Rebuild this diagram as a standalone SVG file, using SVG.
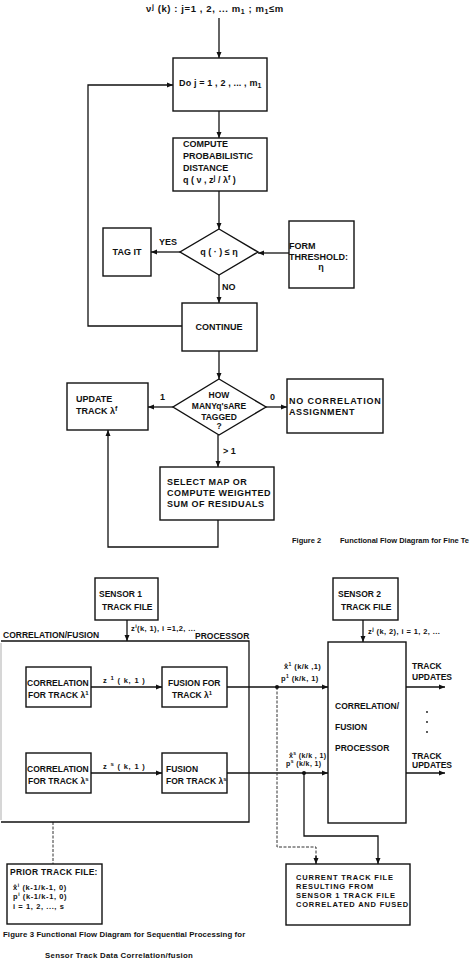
<svg xmlns="http://www.w3.org/2000/svg" width="474" height="962" viewBox="0 0 474 962">
<defs>
<marker id="ah" markerWidth="6" markerHeight="6" refX="6" refY="3" orient="auto" markerUnits="userSpaceOnUse"><path d="M0,0.5 L6,3 L0,5.5 z" fill="#111"/></marker>
<style>
.b{fill:#fff;stroke:#111;stroke-width:1.4}
.l{fill:none;stroke:#111;stroke-width:1.3}
.a{fill:none;stroke:#111;stroke-width:1.3;marker-end:url(#ah)}
.d{fill:none;stroke:#333;stroke-width:1;stroke-dasharray:3,1.5}
.t{font-family:"Liberation Sans",Arial,sans-serif;font-weight:bold;font-size:9px;fill:#111}
.u{font-family:"Liberation Sans",Arial,sans-serif;font-weight:bold;font-size:8.5px;fill:#111}
.s{font-family:"Liberation Sans",Arial,sans-serif;font-weight:bold;font-size:7.5px;fill:#111;letter-spacing:0.4px}
.c{text-anchor:middle}
</style>
</defs>
<rect width="474" height="962" fill="#fff"/>

<text class="t" x="146" y="12" style="font-size:9.5px;letter-spacing:0.6px">ν<tspan dy="-3" font-size="7">j</tspan><tspan dy="3"> (k) : j=1 , 2, ... m</tspan><tspan dy="2" font-size="7">1</tspan><tspan dy="-2"> ; m</tspan><tspan dy="2" font-size="7">1</tspan><tspan dy="-2">≤m</tspan></text>

<g id="connectors">
<path class="a" d="M219,18 V58"/>
<path class="a" d="M219,111 V138"/>
<path class="a" d="M219,191 V229"/>
<path class="a" d="M180,252 H151"/>
<path class="a" d="M289,253 H258"/>
<path class="a" d="M219,275 V303"/>
<path class="a" d="M182,326 H88 V85 H173"/>
<path class="a" d="M219,351 V379"/>
<path class="a" d="M173,407 H148"/>
<path class="a" d="M266,407 H287"/>
<path class="a" d="M218,435 V467"/>
<path class="a" d="M218,520 V547 H108 V430"/>

<path class="a" d="M127,620 V641"/>
<path class="a" d="M363,620 V642"/>
<path class="a" d="M91,687 H162"/>
<path class="a" d="M227,687 H328"/>
<path class="a" d="M406,687 H445"/>
<path class="a" d="M91,773 H162"/>
<path class="a" d="M227,773 H328"/>
<path class="a" d="M406,773 H445"/>
<path class="d" d="M277,687 V847 H316 V858"/>
<path class="a" d="M316,856 V864"/>
<path class="a" d="M304,773 V836 H378 V864"/>
<path class="d" d="M53,822 V864"/>
<circle cx="277" cy="687" r="2" fill="#111"/>
<circle cx="304" cy="773" r="2" fill="#111"/>
</g>

<g id="do-loop"><rect class="b" x="173" y="58" width="94" height="53"/>
<text class="t" x="179" y="86" style="letter-spacing:0.15px">Do j = 1 , 2 , ... , m<tspan dy="2" font-size="7">1</tspan></text></g>

<g id="compute"><rect class="b" x="173" y="138" width="94" height="53"/>
<text class="t" x="183" y="147">COMPUTE</text>
<text class="t" x="183" y="159">PROBABILISTIC</text>
<text class="t" x="183" y="171">DISTANCE</text>
<text class="t" x="183" y="183">q ( ν , z<tspan dy="-3" font-size="7">j</tspan><tspan dy="3"> / λ</tspan><tspan dy="-3" font-size="7">f</tspan><tspan dy="3"> )</tspan></text></g>

<g id="test"><path class="b" d="M219,229 L258,252 L219,275 L180,252 Z"/>
<text class="t c" x="219" y="255">q ( · )  ≤  η</text></g>

<g id="tagit"><rect class="b" x="103" y="228" width="48" height="48"/>
<text class="t c" x="127" y="255">TAG IT</text></g>
<text class="t" x="159" y="245">YES</text>
<text class="t" x="222" y="290">NO</text>

<g id="threshold"><rect class="b" x="289" y="221" width="65" height="67"/>
<text class="t" x="289" y="249">FORM</text>
<text class="t" x="289" y="260">THRESHOLD:</text>
<text class="t c" x="321" y="270">η</text></g>

<g id="continue"><rect class="b" x="182" y="303" width="75" height="48"/>
<text class="t c" x="219" y="330">CONTINUE</text></g>

<g id="howmany"><path class="b" d="M219,379 L266,407 L219,435 L173,407 Z"/>
<text class="u c" x="219" y="398">HOW</text>
<text class="u c" x="219" y="409">MANYq'sARE</text>
<text class="u c" x="219" y="420">TAGGED</text>
<text class="u c" x="219" y="429">?</text></g>
<text class="t" x="160" y="400">1</text>
<text class="t" x="270" y="400">0</text>
<text class="t" x="223" y="454">&gt; 1</text>

<g id="update"><rect class="b" x="67" y="383" width="81" height="47"/>
<text class="t" x="76" y="402">UPDATE</text>
<text class="t" x="76" y="414">TRACK  λ<tspan dy="-3" font-size="7">f</tspan></text></g>

<g id="nocorr"><rect class="b" x="287" y="379" width="96" height="54"/>
<text class="t" x="289" y="404" style="letter-spacing:0.8px">NO CORRELATION</text>
<text class="t" x="289" y="415" style="letter-spacing:0.6px">ASSIGNMENT</text></g>

<g id="select"><rect class="b" x="160" y="467" width="114" height="53"/>
<text class="t" x="167" y="485" style="letter-spacing:0.5px">SELECT  MAP  OR</text>
<text class="t" x="167" y="496" style="letter-spacing:0.5px">COMPUTE WEIGHTED</text>
<text class="t" x="167" y="507" style="letter-spacing:0.5px">SUM OF RESIDUALS</text></g>

<text class="s" x="292" y="543" style="letter-spacing:0">Figure  2</text>
<text class="s" x="340" y="543" style="letter-spacing:0">Functional Flow Diagram for Fine Te</text>

<g id="sensor1"><rect class="b" x="95" y="578" width="63" height="42"/>
<text class="u" x="99" y="597">SENSOR 1</text>
<text class="u" x="102" y="610">TRACK FILE</text></g>
<text class="s" x="131" y="631">z<tspan dy="-3" font-size="5.5">i</tspan><tspan dy="3">(k, 1), i =1,2, ...</tspan></text>

<g id="processor"><path class="l" d="M1,641 H249 V822 H1"/>
<path d="M1,643 V820" stroke="#bbb" stroke-width="1.2" fill="none"/>
<text class="u" x="3" y="638">CORRELATION/FUSION</text>
<text class="u" x="195" y="639">PROCESSOR</text></g>

<g id="sensor2"><rect class="b" x="333" y="578" width="65" height="42"/>
<text class="u" x="338" y="597">SENSOR 2</text>
<text class="u" x="341" y="610">TRACK FILE</text></g>
<text class="s" x="368" y="634">z<tspan dy="-3" font-size="5.5">j</tspan><tspan dy="3"> (k, 2), i = 1, 2, ...</tspan></text>

<g id="corr1"><rect class="b" x="26" y="667" width="65" height="40"/>
<text class="u" x="27" y="686">CORRELATION</text>
<text class="u" x="28" y="698">FOR TRACK λ<tspan dy="-3" font-size="6">1</tspan></text></g>
<text class="s" x="103" y="683" style="letter-spacing:0.8px">z <tspan dy="-3" font-size="6">1</tspan><tspan dy="3">  ( k,  1 )</tspan></text>

<g id="fusion1"><rect class="b" x="162" y="667" width="65" height="40"/>
<text class="u" x="168" y="686">FUSION FOR</text>
<text class="u" x="172" y="698">TRACK λ<tspan dy="-3" font-size="6">1</tspan></text></g>
<text class="s" x="284" y="669">x̂<tspan dy="-3" font-size="5">1</tspan><tspan dy="3"> (k/k ,1)</tspan></text>
<text class="s" x="281" y="681">p<tspan dy="-3" font-size="5">1</tspan><tspan dy="3">  (k/k, 1)</tspan></text>

<g id="corr2"><rect class="b" x="26" y="753" width="65" height="40"/>
<text class="u" x="27" y="772">CORRELATION</text>
<text class="u" x="28" y="784">FOR TRACK λ<tspan dy="-3" font-size="6">s</tspan></text></g>
<text class="s" x="103" y="769" style="letter-spacing:0.8px">z <tspan dy="-3" font-size="6">s</tspan><tspan dy="3">  ( k,  1 )</tspan></text>

<g id="fusion2"><rect class="b" x="162" y="753" width="65" height="40"/>
<text class="u" x="166" y="772">FUSION</text>
<text class="u" x="166" y="784">FOR TRACK λ<tspan dy="-3" font-size="6">s</tspan></text></g>
<text class="s" x="289" y="758" style="font-size:7px">x̂<tspan dy="-3" font-size="5">s</tspan><tspan dy="3"> (k/k , 1)</tspan></text>
<text class="s" x="286" y="766" style="font-size:7px">p<tspan dy="-3" font-size="5">s</tspan><tspan dy="3"> (k/k, 1)</tspan></text>

<g id="corrproc"><rect class="b" x="328" y="642" width="78" height="181"/>
<text class="u" x="335" y="709">CORRELATION/</text>
<text class="u" x="335" y="730">FUSION</text>
<text class="u" x="335" y="751">PROCESSOR</text></g>

<text class="u" x="412" y="669">TRACK</text>
<text class="u" x="412" y="680">UPDATES</text>
<text class="u" x="412" y="759">TRACK</text>
<text class="u" x="412" y="768">UPDATES</text>
<circle cx="427" cy="712" r="0.9" fill="#111"/>
<circle cx="427" cy="722" r="0.9" fill="#111"/>
<circle cx="427" cy="732" r="0.9" fill="#111"/>

<g id="prior"><rect class="b" x="7" y="864" width="95" height="60"/>
<text class="u" x="10" y="875" style="letter-spacing:0.3px">PRIOR TRACK FILE:</text>
<text class="s" x="13" y="890" style="letter-spacing:0.6px">x̂<tspan dy="-3" font-size="5">i</tspan><tspan dy="3"> (k-1/k-1, 0)</tspan></text>
<text class="s" x="13" y="899" style="letter-spacing:0.6px">p<tspan dy="-3" font-size="5">i</tspan><tspan dy="3"> (k-1/k-1, 0)</tspan></text>
<text class="s" x="13" y="909" style="letter-spacing:0.6px">i = 1, 2, ..., s</text></g>

<g id="current"><rect class="b" x="286" y="864" width="124" height="61"/>
<text class="s" x="296" y="880" style="letter-spacing:0.8px">CURRENT TRACK FILE</text>
<text class="s" x="296" y="889" style="letter-spacing:0.8px">RESULTING FROM</text>
<text class="s" x="296" y="898" style="letter-spacing:0.8px">SENSOR 1 TRACK FILE</text>
<text class="s" x="296" y="907" style="letter-spacing:0.8px">CORRELATED AND FUSED</text></g>

<text class="s" x="3" y="937" style="font-size:7.8px;letter-spacing:0.1px">Figure  3  Functional Flow Diagram for Sequential Processing for</text>
<text class="s" x="45" y="958" style="font-size:7.8px;letter-spacing:0.3px">Sensor Track Data Correlation/fusion</text>
</svg>
